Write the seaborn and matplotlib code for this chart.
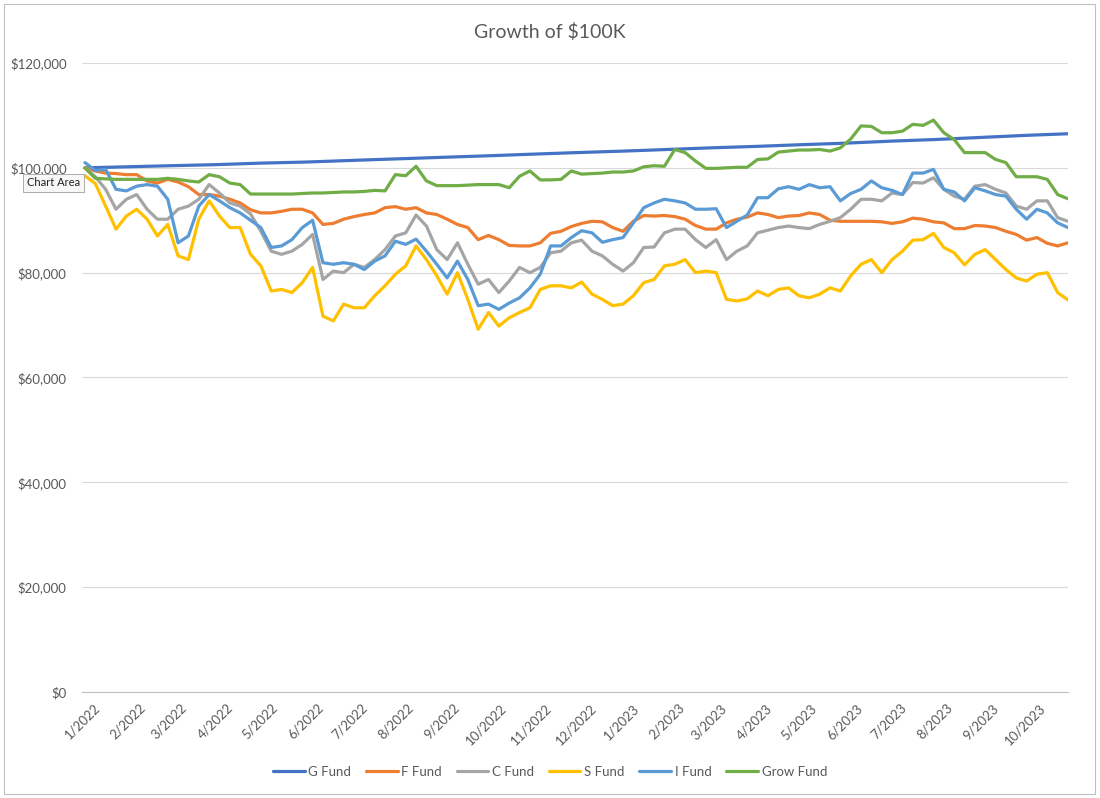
import matplotlib.pyplot as plt
import matplotlib.dates as mdates
import matplotlib.patches as mpatches
from matplotlib.ticker import FuncFormatter
import pandas as pd
import seaborn as sns

sns.set_style("white")
plt.rcParams["font.family"] = ["Lato", "DejaVu Sans"]

# weekly readings (in $K), first point 1/3/2022
weeks = pd.date_range("2022-01-03", periods=96, freq="7D")

f_fund = [100.0, 99.4, 99.0, 98.9, 98.7, 98.7, 97.5, 97.1, 97.8, 97.3, 96.4, 94.9, 94.9, 94.6, 94.0, 93.3,
          92.0, 91.4, 91.4, 91.7, 92.1, 92.1, 91.4, 89.2, 89.4, 90.2, 90.7, 91.1, 91.4, 92.4, 92.6, 92.1,
          92.4, 91.4, 91.1, 90.2, 89.2, 88.6, 86.3, 87.1, 86.3, 85.2, 85.1, 85.1, 85.7, 87.5, 87.9, 88.8,
          89.4, 89.8, 89.7, 88.6, 87.9, 89.8, 90.9, 90.8, 90.9, 90.7, 90.2, 89.0, 88.3, 88.3, 89.5, 90.2,
          90.6, 91.4, 91.1, 90.5, 90.8, 90.9, 91.4, 91.1, 90.0, 89.8, 89.8, 89.8, 89.8, 89.7, 89.4, 89.7,
          90.4, 90.2, 89.7, 89.5, 88.4, 88.4, 89.0, 88.9, 88.6, 87.9, 87.3, 86.2, 86.7, 85.6, 85.1, 85.7]

c_fund = [100.0, 98.3, 95.9, 92.1, 94.0, 94.9, 92.1, 90.2, 90.2, 92.1, 92.7, 94.0, 96.8, 95.2, 93.3, 92.7,
          91.2, 87.9, 84.1, 83.5, 84.1, 85.4, 87.3, 78.7, 80.3, 80.0, 81.6, 81.0, 82.5, 84.4, 87.0, 87.6,
          91.0, 88.9, 84.4, 82.5, 85.7, 81.6, 77.8, 78.7, 76.2, 78.4, 81.0, 80.0, 81.0, 83.8, 84.1, 85.7,
          86.2, 84.1, 83.2, 81.6, 80.3, 81.9, 84.8, 84.9, 87.6, 88.3, 88.3, 86.3, 84.8, 86.3, 82.5, 84.1,
          85.1, 87.6, 88.1, 88.6, 88.9, 88.6, 88.4, 89.2, 89.8, 90.5, 92.1, 94.0, 94.0, 93.7, 95.2, 94.9,
          97.2, 97.1, 98.1, 95.9, 94.6, 94.0, 96.5, 96.8, 95.9, 95.2, 92.7, 92.1, 93.7, 93.7, 90.5, 89.8]

s_fund = [98.5, 97.0, 92.7, 88.3, 90.8, 92.1, 90.2, 87.0, 89.2, 83.2, 82.5, 90.2, 93.7, 90.8, 88.6, 88.6,
          83.5, 81.3, 76.5, 76.8, 76.2, 78.1, 81.0, 71.7, 70.8, 74.0, 73.3, 73.3, 75.6, 77.5, 79.7, 81.3,
          85.1, 82.5, 79.4, 75.9, 80.0, 74.9, 69.2, 72.4, 69.8, 71.4, 72.4, 73.3, 76.8, 77.5, 77.5, 77.1,
          78.2, 75.9, 74.9, 73.7, 74.0, 75.6, 78.1, 78.7, 81.3, 81.6, 82.5, 80.0, 80.3, 80.0, 74.9, 74.6,
          75.0, 76.5, 75.6, 76.8, 77.1, 75.6, 75.2, 75.9, 77.1, 76.5, 79.4, 81.6, 82.5, 80.0, 82.5, 84.1,
          86.2, 86.3, 87.5, 84.8, 83.8, 81.5, 83.5, 84.4, 82.5, 80.6, 79.0, 78.4, 79.7, 80.0, 76.2, 74.8]

i_fund = [101.0, 99.5, 99.7, 95.9, 95.6, 96.5, 96.8, 96.5, 94.0, 85.7, 87.0, 92.7, 94.9, 93.7, 92.4, 91.4,
          90.0, 88.6, 84.8, 85.1, 86.3, 88.6, 90.0, 81.9, 81.6, 81.9, 81.6, 80.6, 82.2, 83.2, 86.0, 85.4,
          86.4, 84.1, 81.6, 79.0, 82.2, 78.7, 73.7, 74.0, 73.0, 74.2, 75.2, 77.1, 79.7, 85.1, 85.1, 86.7,
          88.0, 87.6, 85.8, 86.3, 86.7, 89.5, 92.4, 93.3, 94.0, 93.7, 93.3, 92.1, 92.1, 92.2, 88.6, 89.8,
          91.0, 94.3, 94.3, 96.0, 96.4, 95.9, 96.8, 96.2, 96.4, 93.7, 95.1, 95.9, 97.5, 96.2, 95.7, 94.9,
          99.0, 99.0, 99.7, 95.9, 95.4, 93.7, 96.2, 95.6, 94.9, 94.6, 92.1, 90.2, 92.1, 91.4, 89.5, 88.6]

grow_fund = [100.0, 98.0, 97.9, 97.8, 97.8, 97.8, 97.8, 97.8, 98.0, 97.8, 97.5, 97.3, 98.7, 98.3, 97.1, 96.8,
             95.0, 95.0, 95.0, 95.0, 95.0, 95.1, 95.2, 95.2, 95.3, 95.4, 95.4, 95.5, 95.7, 95.6, 98.7, 98.5,
             100.3, 97.5, 96.6, 96.6, 96.6, 96.7, 96.8, 96.8, 96.8, 96.2, 98.4, 99.4, 97.7, 97.7, 97.8, 99.4,
             98.8, 98.9, 99.0, 99.2, 99.2, 99.4, 100.2, 100.4, 100.3, 103.5, 102.9, 101.3, 99.9, 99.9, 100.0, 100.1,
             100.1, 101.6, 101.7, 103.0, 103.2, 103.4, 103.4, 103.5, 103.2, 103.8, 105.5, 108.0, 107.9, 106.7, 106.7, 107.0,
             108.3, 108.1, 109.1, 106.7, 105.4, 102.9, 102.9, 102.9, 101.6, 101.0, 98.3, 98.3, 98.3, 97.8, 94.9, 94.1]

# G Fund is smooth, read once a month
g_dates = ["2022-01-03", "2022-02-01", "2022-03-01", "2022-04-01", "2022-05-02", "2022-06-01",
           "2022-07-01", "2022-08-01", "2022-09-01", "2022-10-03", "2022-11-01", "2022-12-01",
           "2023-01-03", "2023-02-01", "2023-03-01", "2023-04-03", "2023-05-01", "2023-06-01",
           "2023-07-03", "2023-08-01", "2023-09-01", "2023-10-02", "2023-10-30"]
g_fund = [100.0, 100.2, 100.4, 100.6, 100.9, 101.1, 101.4, 101.7, 102.0, 102.3, 102.6, 102.9,
          103.2, 103.5, 103.8, 104.1, 104.4, 104.7, 105.1, 105.4, 105.8, 106.2, 106.5]

order = ["G Fund", "F Fund", "C Fund", "S Fund", "I Fund", "Grow Fund"]
colors = ["#4472C4", "#ED7D31", "#A5A5A5", "#FFC000", "#5B9BD5", "#70AD47"]

weekly = pd.DataFrame({"Date": weeks, "F Fund": f_fund, "C Fund": c_fund, "S Fund": s_fund,
                       "I Fund": i_fund, "Grow Fund": grow_fund})
weekly = weekly.melt(id_vars="Date", var_name="Fund", value_name="Value")
g = pd.DataFrame({"Date": pd.to_datetime(g_dates), "Fund": "G Fund", "Value": g_fund})
df = pd.concat([g, weekly], ignore_index=True)
df["Value"] = df["Value"] * 1000

fig = plt.figure(figsize=(11, 7.98), dpi=100)
ax = fig.add_axes([82 / 1100, 1 - 692 / 798, (1068 - 82) / 1100, (692 - 63) / 798])

sns.lineplot(data=df, x="Date", y="Value", hue="Fund", hue_order=order, palette=colors,
             linewidth=2.3, estimator=None, ax=ax, solid_joinstyle="round", solid_capstyle="round")

ax.set_ylim(0, 120000)
ax.set_yticks(range(0, 120001, 20000))
ax.yaxis.set_major_formatter(FuncFormatter(lambda v, p: f"${v:,.0f}"))
ax.set_xlim(pd.Timestamp("2022-01-01"), pd.Timestamp("2023-10-30"))
ax.xaxis.set_major_locator(mdates.MonthLocator())
ax.xaxis.set_major_formatter(FuncFormatter(lambda v, p: f"{mdates.num2date(v).month}/{mdates.num2date(v).year}"))

ax.yaxis.grid(True, color="#D9D9D9", linewidth=0.8)
ax.xaxis.grid(False)
for s in ["left", "top", "right"]:
    ax.spines[s].set_visible(False)
ax.spines["bottom"].set_color("#BFBFBF")
ax.spines["bottom"].set_linewidth(0.8)

ax.tick_params(axis="x", direction="out", length=5, width=0.8, color="#BFBFBF",
               labelsize=9.5, labelcolor="#595959", labelrotation=45, pad=2)
ax.tick_params(axis="y", length=0, labelsize=9.5, labelcolor="#595959", pad=11)
ax.set_xlabel("")
ax.set_ylabel("")

handles, labels = ax.get_legend_handles_labels()
ax.get_legend().remove()
fig.legend(handles, labels, loc="center", bbox_to_anchor=(0.5, 1 - 772 / 798), ncol=6, frameon=False,
           fontsize=9.5, labelcolor="#595959", handlelength=2.4, handletextpad=0.3, columnspacing=1.1)

fig.text(0.5, 1 - 32 / 798, r"Growth of \$100K", ha="center", va="center", fontsize=14, color="#595959")

# chart area border and the hover tooltip seen in the screenshot
fig.add_artist(mpatches.Rectangle((4 / 1100, 4 / 798), 1091 / 1100, 790 / 798, transform=fig.transFigure,
                                  fill=False, edgecolor="#BFBFBF", linewidth=0.8))
fig.text(27 / 1100, 1 - 183 / 798, "Chart Area", fontsize=8, color="#222222", ha="left", va="center", zorder=10,
         bbox=dict(boxstyle="square,pad=0.35", facecolor="#F7F7F7", edgecolor="#9E9E9E", linewidth=0.6))

fig.savefig("out.png", dpi=100)
